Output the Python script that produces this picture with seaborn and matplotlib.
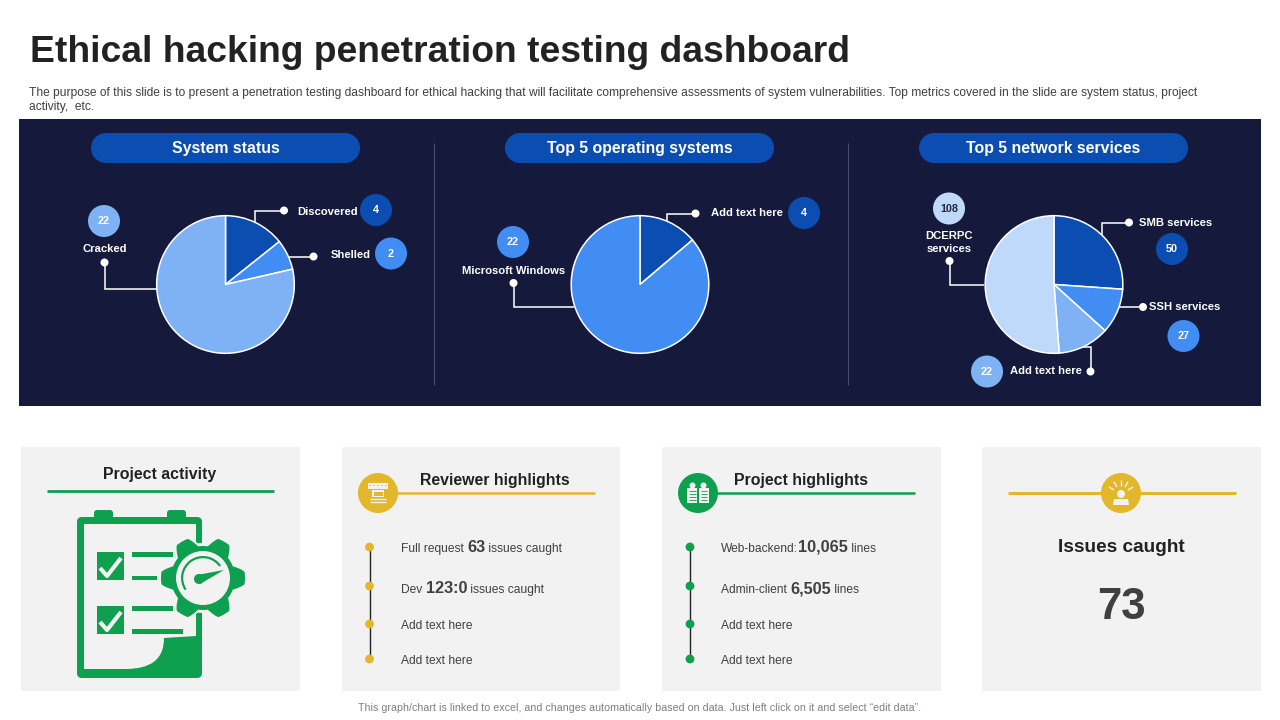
import numpy as np
import seaborn as sns
import matplotlib
matplotlib.use("Agg")
import matplotlib.pyplot as plt
from matplotlib.patches import Circle, Rectangle, FancyBboxPatch, Polygon, Wedge, PathPatch, Ellipse
from matplotlib.path import Path

# ---------- data ----------
system_labels = ["Discovered", "Shelled", "Cracked"]
system_values = [4, 2, 22]
os_labels = ["Add text here", "Microsoft Windows"]
os_badges = [4, 22]
os_shares = [13.8, 86.2]                 # slice sizes as drawn in the picture
network_labels = ["SMB services", "SSH services", "Add text here", "DCERPC services"]
network_badges = [50, 27, 22, 108]
network_shares = [26.1, 10.6, 12.1, 51.2]  # slice sizes as drawn in the picture
reviewer_rows = [[("Full request ", 0), ("63", 1), (" issues caught", 0)],
                 [("Dev ", 0), ("123:0", 1), (" issues caught", 0)],
                 [("Add text here", 0)], [("Add text here", 0)]]
project_rows = [[("Web-backend:", 0), ("10,065", 1), (" lines", 0)],
                [("Admin-client ", 0), ("6,505", 1), (" lines", 0)],
                [("Add text here", 0)], [("Add text here", 0)]]
issues_caught = 73
TITLE = "Ethical hacking penetration testing dashboard"
SUB1 = ("The purpose of this slide is to present a penetration testing dashboard for ethical hacking that will facilitate "
        "comprehensive assessments of system vulnerabilities. Top metrics covered in the slide are system status, project")
SUB2 = "activity,  etc."
FOOT = "This graph/chart is linked to excel, and changes automatically based on data. Just left click on it and select \u201cedit data\u201d."

# ---------- style ----------
sns.set_theme(style="white")
plt.rcParams["font.family"] = ["Liberation Sans", "DejaVu Sans"]
NAVY = "#151A3D"; DARK = "#0B4DB0"; MID = "#418DF3"; LIGHT = "#7FB1F5"; PALE = "#BFD9FA"
PANEL = "#F2F2F2"; GREEN = "#0E9F4F"; YELLOW = "#E3B72B"; INK = "#222222"; BODY = "#404040"
palette = sns.color_palette([DARK, MID, LIGHT, PALE])

fig = plt.figure(figsize=(12.8, 7.2), dpi=100, facecolor="white")
ax = fig.add_axes([0, 0, 1, 1])
ax.set_xlim(0, 1280); ax.set_ylim(720, 0); ax.axis("off")

def rect(x0, y0, x1, y1, c, z=1):
    ax.add_patch(Rectangle((x0, y0), x1 - x0, y1 - y0, fc=c, ec="none", zorder=z))

def line(xs, ys, c="white", lw=1.1, z=5):
    ax.plot(xs, ys, color=c, lw=lw, zorder=z, solid_capstyle="butt", solid_joinstyle="miter")

def dot(x, y, c="white", r=4, z=6):
    ax.add_patch(Circle((x, y), r, fc=c, ec="none", zorder=z))

def txt(x, y, s, size=8.1, c="white", w="normal", ha="center", z=7):
    return ax.text(x, y + 1, s, fontsize=size, color=c, fontweight=w, ha=ha, va="center", zorder=z)

def badge(x, y, s, c, tc="white"):
    dot(x, y, c, 16)
    txt(x, y - 0.8, s, 7.8, tc, "bold")

def pill(x0, x1, s):
    ax.add_patch(Rectangle((x0 + 15, 133), x1 - x0 - 30, 30, fc=DARK, ec="none", zorder=3))
    ax.add_patch(Circle((x0 + 15, 148), 15, fc=DARK, ec="none", zorder=3))
    ax.add_patch(Circle((x1 - 15, 148), 15, fc=DARK, ec="none", zorder=3))
    txt((x0 + x1) / 2, 147.5, s, 11.45, "white", "bold")

def pie(cx, cy, r, values, colors):
    a = fig.add_axes([(cx - r) / 1280, 1 - (cy + r) / 720, 2 * r / 1280, 2 * r / 720])
    a.pie(values, colors=colors, startangle=90, counterclock=False, radius=1,
          wedgeprops=dict(edgecolor="white", linewidth=1.1), normalize=True)
    a.set_xlim(-1.01, 1.01); a.set_ylim(-1.01, 1.01); a.set_zorder(4); a.patch.set_alpha(0)

fig.canvas.draw()
rend = fig.canvas.get_renderer()

def run(x, base, parts, small=8.65, big=11.7):
    for s, b in parts:
        t = ax.text(x, base, s, fontsize=big if b else small, color=BODY, fontweight="bold" if b else "normal",
                    ha="left", va="baseline", zorder=7)
        x += t.get_window_extent(rend).width

# ---------- header ----------
txt(29.5, 52, TITLE, 26.8, INK, "bold", "left")
txt(29, 92, SUB1, 8.65, BODY, ha="left")
txt(29, 106, SUB2, 8.65, BODY, ha="left")
txt(640, 707, FOOT, 7.65, "#7F7F7F")

# ---------- navy band ----------
rect(19, 119, 1261, 406, NAVY)
for x in (433.5, 847.5):
    line([x, x], [143, 385], "#4A4E69", 0.8, 2)
pill(91, 360, "System status")
pill(505, 774, "Top 5 operating systems")
pill(919, 1188, "Top 5 network services")

pie(225.5, 284.5, 69.5, system_values, [palette[0], palette[1], palette[2]])
pie(640, 284.5, 69.5, os_shares, [palette[0], palette[1]])
pie(1054, 284.5, 69.5, network_shares, [palette[0], palette[1], palette[2], palette[3]])

# system callouts
line([255, 255, 284], [222, 210.5, 210.5]); dot(284, 210.5)
txt(297, 211, system_labels[0], w="bold", ha="left"); badge(376, 210, str(system_values[0]), DARK)
line([289, 313], [256.5, 256.5]); dot(313.5, 256.5)
txt(331, 254.5, system_labels[1], w="bold", ha="left"); badge(391, 253.5, str(system_values[1]), MID)
line([157, 104.5, 104.5], [288.5, 288.5, 262]); dot(104.5, 262.5)
txt(105, 247.5, system_labels[2], w="bold"); badge(104, 221, str(system_values[2]), LIGHT)

# OS callouts
line([667, 667, 695.5], [221, 213.5, 213.5]); dot(695.5, 213.5)
txt(711, 212.5, os_labels[0], w="bold", ha="left"); badge(804, 213, str(os_badges[0]), DARK)
line([574, 513.5, 513.5], [307, 307, 283]); dot(513.5, 283)
txt(514, 269.5, os_labels[1], w="bold"); badge(513, 242, str(os_badges[1]), MID)

# network callouts
line([1102, 1102, 1129], [237, 222.5, 222.5]); dot(1129, 222.5)
txt(1139, 221.5, network_labels[0], w="bold", ha="left"); badge(1172, 249, str(network_badges[0]), DARK)
line([1119, 1143], [307, 307]); dot(1143, 307)
txt(1149, 306.5, network_labels[1], w="bold", ha="left"); badge(1183.5, 336, str(network_badges[1]), MID)
line([1083, 1090.5, 1090.5], [347, 347, 371]); dot(1090.5, 371.5)
txt(1010, 370.5, network_labels[2], w="bold", ha="left"); badge(987, 371.5, str(network_badges[2]), LIGHT)
line([984, 949.5, 949.5], [284.5, 284.5, 261]); dot(949.5, 261)
txt(925, 235, "DCERPC", w="bold", ha="left"); txt(927, 247.5, "services", w="bold", ha="left")
badge(949, 208.5, str(network_badges[3]), PALE, "#222A44")

# ---------- panels ----------
for x0, x1 in ((21, 300), (342, 620), (662, 941), (982, 1261)):
    rect(x0, 447, x1, 691, PANEL)

# project activity
txt(160, 473.5, "Project activity", 11.4, INK, "bold")
line([47, 274], [491, 491], GREEN, 2.0)
def rrect(x0, y0, x1, y1, c, rad=3, z=3):
    ax.add_patch(FancyBboxPatch((x0 + rad, y0 + rad), x1 - x0 - 2 * rad, y1 - y0 - 2 * rad,
                                boxstyle=f"round,pad={rad},rounding_size={rad}", fc=c, ec="none", zorder=z))
rrect(94, 510, 113, 522, GREEN); rrect(167, 510, 186, 522, GREEN)
rrect(77, 517, 202, 678, GREEN, 5)
V = [(84, 524), (196, 524), (196, 636), (164, 638),
     (164, 660), (150, 669), (125, 669), (84, 669)]
C = [Path.MOVETO, Path.LINETO, Path.LINETO, Path.LINETO, Path.CURVE4, Path.CURVE4, Path.CURVE4, Path.LINETO]
ax.add_patch(PathPatch(Path(V + [(84, 524)], C + [Path.CLOSEPOLY]), fc=PANEL, ec="none", zorder=4))
for y in (552, 606):
    rect(97, y, 124, y + 28, GREEN, 5)
    ax.plot([100, 107, 121], [y + 16, y + 24, y + 6], color=PANEL, lw=3, zorder=6, solid_capstyle="butt")
for x0, x1, y0, y1 in ((132, 173, 552, 556.5), (132, 157, 576, 580), (132, 173, 606, 610.5), (132, 183, 629, 633.5)):
    rect(x0, y0, x1, y1, GREEN, 5)
# gear icon
gx, gy = 203, 578
th = np.linspace(0, 2 * np.pi, 721)
rr = 37 + 5 * np.clip(1.6 * np.cos(6 * th), -1, 1)
ax.add_patch(Polygon(np.c_[gx + (rr + 3) * np.cos(th), gy + (rr + 3) * np.sin(th)], fc=PANEL, ec="none", zorder=5))
ax.add_patch(Polygon(np.c_[gx + rr * np.cos(th), gy + rr * np.sin(th)], fc=GREEN, ec="none", zorder=6))
dot(gx, gy, PANEL, 27, 7)
ax.add_patch(Wedge((gx, gy), 22, 146, 325, width=2.2, fc=GREEN, ec="none", zorder=8))
ax.add_patch(Polygon([(197, 575), (224, 570), (200, 584)], fc=GREEN, ec="none", zorder=8))
dot(199, 579, GREEN, 5, 8)

# small icons in the circles
def icon_reviewer(cx, cy):
    rect(cx - 10.5, cy - 10, cx + 10, cy - 4.5, PANEL, 9)
    for dx in (-8, -4, 0, 4, 8):
        dot(cx + dx, cy - 7.5, YELLOW, 0.7, 10)
    rect(cx - 6, cy - 3, cx + 6, cy + 4, PANEL, 9)
    rect(cx - 4.5, cy - 1.5, cx + 4.5, cy + 3, YELLOW, 10)
    line([cx - 8, cx + 8], [cy + 6, cy + 6], PANEL, 1.0, 9)
    line([cx - 8, cx + 8], [cy + 8.5, cy + 8.5], PANEL, 1.0, 9)

def icon_book(cx, cy):
    rect(cx - 11, cy - 5, cx - 0.8, cy + 10, PANEL, 9); rect(cx + 0.8, cy - 5, cx + 11, cy + 10, PANEL, 9)
    dot(cx - 5.5, cy - 7.5, PANEL, 3, 9); dot(cx + 5.5, cy - 7.5, PANEL, 3, 9)
    for y in (-2, 1, 4, 7):
        line([cx - 9, cx - 2.5], [cy + y, cy + y], GREEN, 0.6, 10)
        line([cx + 2.5, cx + 9], [cy + y, cy + y], GREEN, 0.6, 10)

def icon_person(cx, cy):
    dot(cx, cy + 1, PANEL, 4, 9)
    ax.add_patch(Polygon([(cx - 8, cy + 12), (cx - 7, cy + 6), (cx + 7, cy + 6), (cx + 8, cy + 12)],
                         fc=PANEL, ec="none", zorder=9))
    for a in (-150, -120, -90, -60, -30):
        ar = np.deg2rad(a)
        line([cx + 8 * np.cos(ar), cx + 14 * np.cos(ar)], [cy + 1 + 8 * np.sin(ar), cy + 1 + 14 * np.sin(ar)], PANEL, 1.0, 9)

def highlights(title, tx, color, line_x0, line_x1, cx, dotx, textx, rows, icon):
    txt(tx, 479.5, title, 11.4, INK, "bold")
    line([line_x0, line_x1], [492.8, 492.8], color, 1.8, 2)
    ax.add_patch(Ellipse((cx, 493), 40, 40, fc=color, ec="none", zorder=4))
    icon(cx, 493)
    ys = [547, 586, 624, 659]
    bases = [552, 593, 629, 664]
    line([dotx, dotx], [ys[0], ys[-1]], "#222222", 1.0, 3)
    for y, b, parts in zip(ys, bases, rows):
        dot(dotx, y, color, 4.4, 4)
        run(textx, b, parts)

highlights("Reviewer highlights", 495, YELLOW, 378, 595, 378, 369.5, 401, reviewer_rows, icon_reviewer)
highlights("Project highlights", 801.5, GREEN, 698, 915, 698, 690, 721, project_rows, icon_book)

# issues caught
line([1008, 1236], [492.8, 492.8], YELLOW, 2.2, 2)
ax.add_patch(Ellipse((1121, 493), 40, 40, fc=YELLOW, ec="none", zorder=4))
icon_person(1121, 493)
txt(1121, 546.5, "Issues caught", 13.7, INK, "bold")
txt(1121, 606.5, str(issues_caught), 31.5, BODY, "bold")

fig.savefig("out.png", dpi=100, facecolor="white")
